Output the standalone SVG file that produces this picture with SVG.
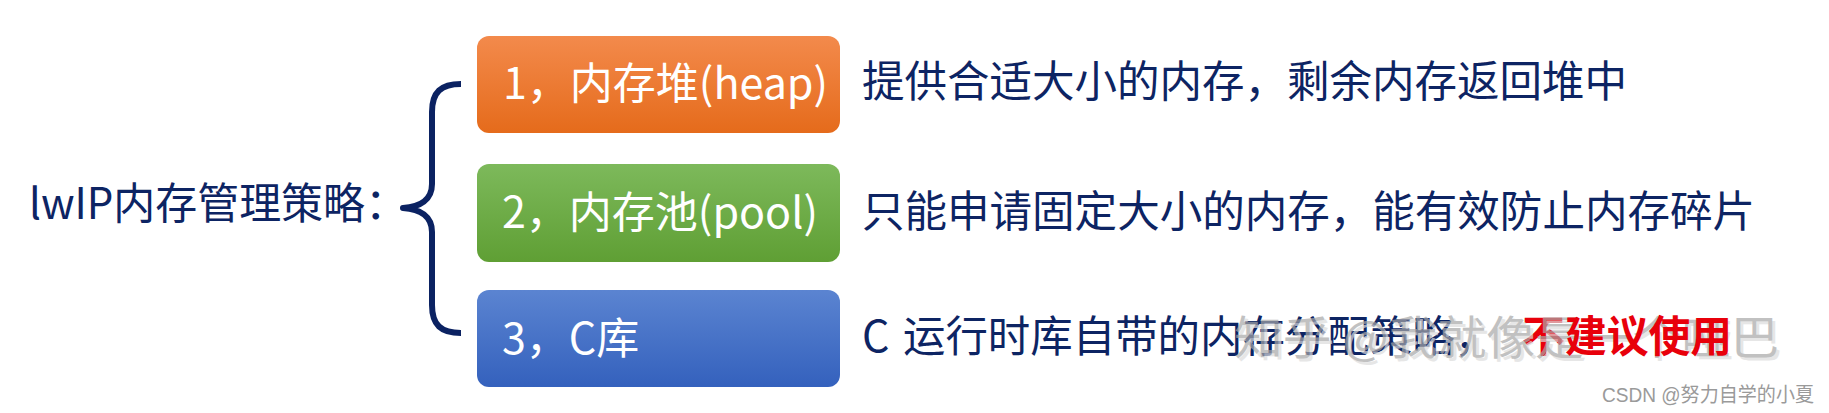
<svg xmlns="http://www.w3.org/2000/svg" width="1829" height="413" viewBox="0 0 1829 413">
<style>
.cjk{font-family:"Noto Sans CJK SC","Liberation Sans",sans-serif;}
.navy{fill:#0d2463;font-size:43px;}
.box-t{fill:#ffffff;font-size:43px;}
.wm{font-size:46px;}
.red{fill:#e8000b;font-size:43px;font-weight:bold;}
.brace{fill:none;stroke:#0b2262;stroke-width:6;stroke-linejoin:round;stroke-linecap:butt;}
</style>
<defs>
<linearGradient id="gOrange" x1="0" y1="0" x2="0" y2="1">
<stop offset="0" stop-color="#f38a4c"/><stop offset="1" stop-color="#e56b1b"/>
</linearGradient>
<linearGradient id="gGreen" x1="0" y1="0" x2="0" y2="1">
<stop offset="0" stop-color="#7db95b"/><stop offset="1" stop-color="#5f9f34"/>
</linearGradient>
<linearGradient id="gBlue" x1="0" y1="0" x2="0" y2="1">
<stop offset="0" stop-color="#5b84d1"/><stop offset="1" stop-color="#3461bd"/>
</linearGradient>
</defs>
<rect width="1829" height="413" fill="#ffffff"/>

<g id="title">
<text class="cjk navy" x="29" y="219" textLength="336" lengthAdjust="spacingAndGlyphs">lwIP内存管理策略</text>
<text class="cjk navy" x="365" y="219">：</text>
</g>

<g id="connectors">
<path class="brace" d="M461 84 C441 84 432 92 432 112 L432 184 C432 200 420 207 403 208 C420 209 432 216 432 232 L432 305 C432 325 441 333 461 333"/>
</g>

<g id="node-heap">
<rect x="477" y="36" width="363" height="97" rx="12" fill="url(#gOrange)"/>
<text class="cjk box-t" x="503" y="99">1，内存堆(heap)</text>
</g>
<g id="node-pool">
<rect x="477" y="164" width="363" height="98" rx="12" fill="url(#gGreen)"/>
<text class="cjk box-t" x="502" y="228">2，内存池(pool)</text>
</g>
<g id="node-clib">
<rect x="477" y="290" width="363" height="97" rx="12" fill="url(#gBlue)"/>
<text class="cjk box-t" x="502" y="354">3，C库</text>
</g>

<g id="desc-heap">
<text class="cjk navy" x="862" y="97" textLength="765" lengthAdjust="spacingAndGlyphs">提供合适大小的内存，剩余内存返回堆中</text>
</g>
<g id="desc-pool">
<text class="cjk navy" x="862" y="227" textLength="893" lengthAdjust="spacingAndGlyphs">只能申请固定大小的内存，能有效防止内存碎片</text>
</g>
<g id="desc-clib">
<text class="cjk navy" x="862" y="352">C</text>
<text class="cjk navy" x="903" y="352" textLength="594" lengthAdjust="spacingAndGlyphs">运行时库自带的内存分配策略，</text>
<text class="cjk red" x="1522" y="352">不</text>
</g>

<g id="watermark-zhihu" class="cjk wm" opacity="0.7">
<text x="1237" y="357" fill="#dcdcdc" textLength="545" lengthAdjust="spacingAndGlyphs">知乎 @我就像是一个哑巴</text>
<text x="1234" y="354" fill="#a8a8a8" textLength="545" lengthAdjust="spacingAndGlyphs">知乎 @我就像是一个哑巴</text>
</g>

<g id="desc-clib-red">
<text class="cjk red" x="1565" y="352" textLength="167" lengthAdjust="spacingAndGlyphs">建议使用</text>
</g>

<g id="watermark-csdn">
<text x="1602" y="402" fill="#9a9a9a" font-size="20" font-family="'Liberation Sans','Noto Sans CJK SC',sans-serif" textLength="212" lengthAdjust="spacingAndGlyphs">CSDN @努力自学的小夏</text>
</g>
</svg>
